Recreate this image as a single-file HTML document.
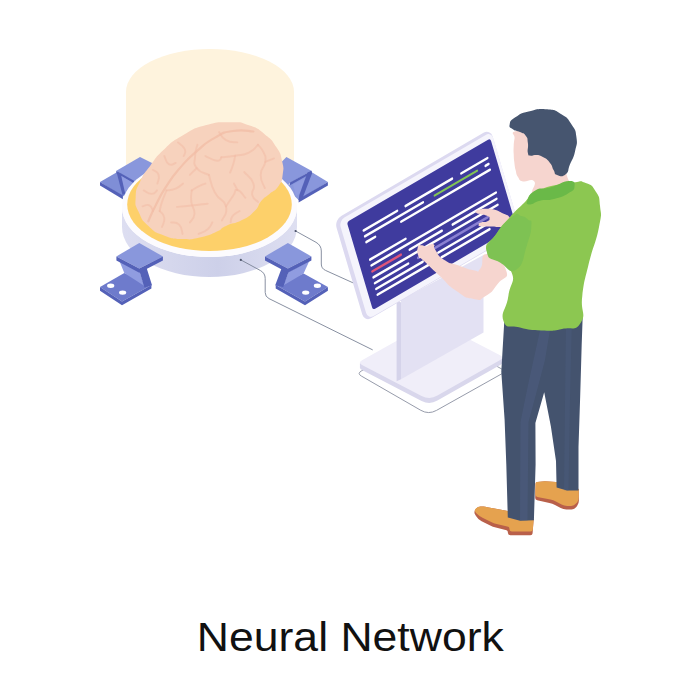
<!DOCTYPE html>
<html><head><meta charset="utf-8"><title>Neural Network</title>
<style>html,body{margin:0;padding:0;background:#fff;width:700px;height:700px;overflow:hidden}svg{display:block}</style>
</head><body>
<svg width="700" height="700" viewBox="0 0 700 700">
<rect width="700" height="700" fill="#ffffff"/>
<path d="M126,92 A84,43 0 0 1 294,92 L294,205 A84,47 0 0 1 126,205 Z" fill="#FEF3DD"/>
<polygon points="100.0,182.1 116.4,172.6 140.0,186.0 122.9,196.4" fill="#7F8ED6" />
<polygon points="100.0,182.1 122.9,195.6 122.9,199.2 100.0,185.6" fill="#5461B8" />
<polygon points="140.0,156.9 156.0,165.0 136.0,184.0 116.4,170.7" fill="#8997DC" />
<polygon points="116.4,170.7 134.0,180.8 134.0,183.4 116.4,173.3" fill="#5461B8" />
<polygon points="120.5,175.5 132.5,182.5 127.0,190.0 124.3,193.0" fill="#909CE0" />
<polygon points="116.4,171.5 120.8,174.0 125.2,193.5 122.6,195.3" fill="#5461B8" />
<polygon points="327.9,182.1 311.4,172.1 285.0,187.0 298.6,200.0" fill="#8997DC" />
<polygon points="327.9,182.1 298.6,199.0 298.6,202.6 327.9,185.6" fill="#5461B8" />
<polygon points="286.4,157.1 311.4,170.7 290.0,182.9 284.0,190.0 268.0,176.0" fill="#8997DC" />
<polygon points="311.4,170.7 290.0,182.6 290.0,185.2 311.4,173.3" fill="#5461B8" />
<polygon points="293.0,184.5 305.0,178.0 299.5,194.0 296.0,196.0" fill="#909CE0" />
<polygon points="307.5,172.5 311.6,170.7 312.0,173.5 303.0,197.0 298.6,200.0 299.3,195.0" fill="#5461B8" />
<defs><linearGradient id="pg" x1="0" x2="1" y1="0" y2="0"><stop offset="0" stop-color="#DDDEF1"/><stop offset="0.55" stop-color="#CDD0E9"/><stop offset="1" stop-color="#DEDFF1"/></linearGradient></defs>
<path d="M122,207 A87.5,50 0 0 0 297,207 L297,227 A87.5,50 0 0 1 122,227 Z" fill="url(#pg)"/>
<ellipse cx="209.5" cy="207" rx="87.5" ry="50" fill="#FCFBFE"/>
<ellipse cx="209.5" cy="204.5" rx="82.3" ry="46.5" fill="#FDD06A"/>
<path d="M230.6,122.3 C243.6,122.3 238.6,121.7 248.9,125.3 C259.1,128.9 256.6,127.9 264.9,134.4 C273.1,140.9 271.1,139.1 276.3,147.0 C281.4,154.9 280.1,152.5 282.0,160.7 C283.9,168.9 283.7,166.9 282.7,174.4 C281.7,182.0 282.5,180.0 278.6,185.9 C274.6,191.7 274.6,189.4 269.4,193.9 C264.3,198.3 265.9,195.6 261.4,200.7 C257.0,205.9 260.4,205.2 254.6,211.0 C248.7,216.8 250.6,215.7 242.0,220.1 C233.4,224.6 233.5,222.4 226.0,225.9 C218.5,229.3 224.4,228.1 216.9,231.6 C209.3,235.0 211.1,235.0 200.9,237.3 C190.6,239.5 193.8,239.7 182.6,239.1 C171.3,238.5 173.5,239.1 163.4,235.2 C153.2,231.4 156.1,233.2 148.7,226.3 C141.3,219.4 142.6,220.9 138.7,212.1 C134.8,203.4 135.2,206.5 135.7,197.3 C136.2,188.0 135.8,190.9 140.3,181.3 C144.7,171.7 143.4,174.9 150.6,165.3 C157.8,155.7 154.7,158.2 164.3,149.3 C173.9,140.4 170.2,142.8 182.6,135.6 C194.9,128.4 191.0,129.3 205.4,125.3 C219.8,121.3 217.5,122.3 230.6,122.3Z" fill="#F7D2BD" />
<path d="M148.3,221.3 C150.3,216.8 149.7,217.1 155.1,206.4 C160.6,195.8 159.0,197.5 166.6,185.9 C174.1,174.2 171.4,177.9 180.3,167.6 C189.2,157.3 186.0,160.5 196.3,151.6 C206.6,142.7 203.6,144.0 214.6,137.9 C225.5,131.7 221.2,132.9 232.9,131.0 C244.5,129.1 247.3,131.3 253.4,131.5" fill="none" stroke="#F2BCA6" stroke-width="2.2" stroke-linecap="round" stroke-linejoin="round" opacity="0.75"/>
<path d="M197.4,144.7 C196.7,148.1 195.3,149.1 195.1,156.1 C194.9,163.1 192.6,162.4 196.7,168.0 C200.9,173.7 205.2,172.8 208.9,174.9" fill="none" stroke="#F2BCA6" stroke-width="1.9" stroke-linecap="round" stroke-linejoin="round" opacity="0.55"/>
<path d="M196.7,168.0 C194.7,170.1 191.9,172.8 189.9,174.9" fill="none" stroke="#F2BCA6" stroke-width="1.9" stroke-linecap="round" stroke-linejoin="round" opacity="0.55"/>
<path d="M221.4,157.3 C225.5,156.8 226.9,157.1 235.1,155.7 C243.4,154.3 242.0,156.0 248.9,152.7 C255.7,149.4 255.3,147.1 258.0,144.7" fill="none" stroke="#F2BCA6" stroke-width="1.9" stroke-linecap="round" stroke-linejoin="round" opacity="0.55"/>
<path d="M235.1,155.7 C234.6,158.2 234.8,159.1 233.3,164.1 C231.8,169.2 231.1,170.1 230.1,172.6" fill="none" stroke="#F2BCA6" stroke-width="1.9" stroke-linecap="round" stroke-linejoin="round" opacity="0.55"/>
<path d="M258.0,144.7 C259.7,147.1 261.5,147.6 263.7,152.7 C265.9,157.9 266.2,155.2 265.3,161.9 C264.4,168.5 260.9,167.0 260.7,174.9 C260.6,182.8 263.6,184.2 264.9,188.1" fill="none" stroke="#F2BCA6" stroke-width="1.9" stroke-linecap="round" stroke-linejoin="round" opacity="0.55"/>
<path d="M265.3,161.9 C267.9,160.8 271.4,159.5 274.0,158.4" fill="none" stroke="#F2BCA6" stroke-width="1.9" stroke-linecap="round" stroke-linejoin="round" opacity="0.55"/>
<path d="M208.9,174.9 C210.7,180.2 209.9,183.3 215.0,192.7 C220.2,202.2 223.9,198.1 226.0,206.4 C228.1,214.8 223.1,216.3 221.9,220.6" fill="none" stroke="#F2BCA6" stroke-width="1.9" stroke-linecap="round" stroke-linejoin="round" opacity="0.55"/>
<path d="M226.0,206.4 C228.2,203.1 229.9,200.4 233.3,195.5 C236.7,190.5 233.8,189.3 237.4,190.0 C241.1,190.7 243.0,195.4 245.4,197.7" fill="none" stroke="#F2BCA6" stroke-width="1.9" stroke-linecap="round" stroke-linejoin="round" opacity="0.55"/>
<path d="M237.4,190.0 C236.4,188.1 235.0,185.5 234.0,183.6" fill="none" stroke="#F2BCA6" stroke-width="1.9" stroke-linecap="round" stroke-linejoin="round" opacity="0.55"/>
<path d="M191.7,190.4 C191.6,193.9 190.4,194.9 191.3,201.9 C192.1,208.9 194.9,207.6 194.5,213.7 C194.0,219.9 191.3,219.8 189.9,222.4" fill="none" stroke="#F2BCA6" stroke-width="1.9" stroke-linecap="round" stroke-linejoin="round" opacity="0.55"/>
<path d="M176.9,206.9 C181.2,206.5 182.0,206.5 191.3,205.5 C200.5,204.6 202.8,204.2 207.7,203.7" fill="none" stroke="#F2BCA6" stroke-width="1.9" stroke-linecap="round" stroke-linejoin="round" opacity="0.55"/>
<path d="M166.6,190.4 C169.3,189.9 170.8,190.7 175.7,188.6 C180.7,186.5 180.8,185.1 183.0,183.6" fill="none" stroke="#F2BCA6" stroke-width="1.9" stroke-linecap="round" stroke-linejoin="round" opacity="0.55"/>
<path d="M244.3,172.1 C247.0,175.6 251.0,176.7 253.4,183.6 C255.8,190.4 250.9,189.5 252.3,195.0 C253.7,200.5 256.3,199.8 258.0,201.9" fill="none" stroke="#F2BCA6" stroke-width="1.9" stroke-linecap="round" stroke-linejoin="round" opacity="0.55"/>
<path d="M205.4,183.6 C203.4,184.4 202.7,184.3 198.6,186.3 C194.5,188.4 193.8,189.2 191.7,190.4" fill="none" stroke="#F2BCA6" stroke-width="1.9" stroke-linecap="round" stroke-linejoin="round" opacity="0.55"/>
<path d="M212.3,222.4 C210.9,224.5 211.8,225.9 207.7,229.3 C203.6,232.7 201.3,232.5 198.6,233.9" fill="none" stroke="#F2BCA6" stroke-width="1.9" stroke-linecap="round" stroke-linejoin="round" opacity="0.55"/>
<path d="M239.7,211.0 C237.7,212.4 235.6,212.1 232.9,215.6 C230.1,219.0 231.3,220.4 230.6,222.4" fill="none" stroke="#F2BCA6" stroke-width="1.9" stroke-linecap="round" stroke-linejoin="round" opacity="0.55"/>
<path d="M219.1,132.1 C221.2,134.5 220.5,137.1 226.0,140.1 C231.5,143.2 234.0,141.7 237.4,142.4" fill="none" stroke="#F2BCA6" stroke-width="1.9" stroke-linecap="round" stroke-linejoin="round" opacity="0.55"/>
<path d="M205.4,156.1 C208.9,157.5 212.1,160.4 216.9,160.7 C221.7,161.1 220.1,158.3 221.4,157.3" fill="none" stroke="#F2BCA6" stroke-width="1.9" stroke-linecap="round" stroke-linejoin="round" opacity="0.55"/>
<path d="M152.9,169.9 C154.6,171.4 157.2,170.8 158.6,174.9 C159.9,179.0 157.8,181.0 157.4,183.6" fill="none" stroke="#F2BCA6" stroke-width="1.9" stroke-linecap="round" stroke-linejoin="round" opacity="0.55"/>
<path d="M164.3,156.1 C165.7,158.5 165.4,162.1 168.9,164.1 C172.3,166.2 173.7,163.3 175.7,163.0" fill="none" stroke="#F2BCA6" stroke-width="1.9" stroke-linecap="round" stroke-linejoin="round" opacity="0.55"/>
<path d="M143.7,190.4 C146.1,191.5 147.7,193.9 151.7,193.9 C155.7,193.9 155.4,191.5 157.0,190.4" fill="none" stroke="#F2BCA6" stroke-width="1.9" stroke-linecap="round" stroke-linejoin="round" opacity="0.55"/>
<path d="M142.6,206.4 C144.6,206.1 146.3,203.9 149.4,205.3 C152.5,206.7 151.8,209.3 152.9,211.0" fill="none" stroke="#F2BCA6" stroke-width="1.9" stroke-linecap="round" stroke-linejoin="round" opacity="0.55"/>
<path d="M159.7,211.0 C161.1,213.1 163.6,213.1 164.3,217.9 C165.0,222.7 162.7,224.3 162.0,227.0" fill="none" stroke="#F2BCA6" stroke-width="1.9" stroke-linecap="round" stroke-linejoin="round" opacity="0.55"/>
<path d="M166.6,190.4 C165.2,193.9 164.1,195.7 162.0,201.9 C159.9,208.0 160.4,208.3 159.7,211.0" fill="none" stroke="#F2BCA6" stroke-width="1.9" stroke-linecap="round" stroke-linejoin="round" opacity="0.55"/>
<path d="M178.0,142.4 C180.1,144.5 183.1,145.2 184.9,149.3 C186.6,153.4 184.1,154.1 183.7,156.1" fill="none" stroke="#F2BCA6" stroke-width="1.9" stroke-linecap="round" stroke-linejoin="round" opacity="0.55"/>
<path d="M171.1,222.4 C173.5,223.1 175.7,221.3 179.1,224.7 C182.6,228.1 181.5,231.1 182.6,233.9" fill="none" stroke="#F2BCA6" stroke-width="1.9" stroke-linecap="round" stroke-linejoin="round" opacity="0.55"/>
<polygon points="124.3,272.9 100.0,287.0 122.0,301.4 151.4,285.0" fill="#6E7BCC" />
<polygon points="100.0,287.0 122.0,301.4 151.4,285.0 151.4,288.6 122.0,305.2 100.0,290.8" fill="#5461B8" />
<polygon points="119.0,260.0 139.3,271.0 144.5,286.0 124.3,272.9" fill="#909CE0" />
<polygon points="139.3,271.0 146.5,267.5 152.0,285.3 144.5,287.5" fill="#5461B8" />
<polygon points="139.3,242.9 162.9,256.4 139.3,268.6 116.4,256.4" fill="#8997DC" />
<polygon points="116.4,256.4 139.3,268.6 162.9,256.4 162.9,260.4 139.3,272.8 116.4,260.6" fill="#5461B8" />
<ellipse cx="110.7" cy="285.7" rx="3.6" ry="2.2" fill="#fff"/><ellipse cx="122.6" cy="292.6" rx="3.6" ry="2.2" fill="#fff"/>
<polygon points="303.6,273.6 327.9,287.0 305.0,301.4 275.7,285.0" fill="#6E7BCC" />
<polygon points="327.9,287.0 305.0,301.4 275.7,285.0 275.7,288.6 305.0,305.2 327.9,290.8" fill="#5461B8" />
<polygon points="288.6,272.0 309.3,261.0 303.6,273.6 283.2,285.5" fill="#909CE0" />
<polygon points="281.5,268.5 288.6,272.0 283.2,287.0 275.2,285.3" fill="#5461B8" />
<polygon points="287.9,242.9 311.4,256.4 287.9,268.6 265.0,256.4" fill="#8997DC" />
<polygon points="265.0,256.4 287.9,268.6 311.4,256.4 311.4,260.4 287.9,272.8 265.0,260.6" fill="#5461B8" />
<ellipse cx="317.4" cy="285.7" rx="3.6" ry="2.2" fill="#fff"/><ellipse cx="305.7" cy="292.6" rx="3.6" ry="2.2" fill="#fff"/>
<path d="M295.6,231 L316,242.3 Q321.3,245.3 321.3,251 L321.3,264 Q321.3,268.5 325.5,270.4 L353.4,283" fill="none" stroke="#7A8396" stroke-width="0.9"/>
<path d="M240.8,259.9 L260.5,270.6 Q265.2,273.2 265.2,278.5 L265.2,292.5 Q265.2,296.8 269,298.6 L372.7,349.9" fill="none" stroke="#7A8396" stroke-width="0.9"/>
<circle cx="295.6" cy="231" r="1.1" fill="#4B5368"/><circle cx="240.8" cy="259.9" r="1.1" fill="#4B5368"/>
<path d="M361.3,376.0 Q357.0,373.5 361.3,371.0 L428.7,332.5 Q433.0,330.0 437.3,332.5 L501.7,369.0 Q506.0,371.5 501.6,373.9 L436.5,410.4 Q428.6,414.8 420.8,410.3 Z" fill="none" stroke="#8A90A0" stroke-width="0.9"/>
<path d="M362.0,369.9 Q357.6,367.6 362.0,365.2 L428.6,327.9 Q433.0,325.5 437.4,327.8 L500.1,360.2 Q504.5,362.5 500.2,365.0 L437.4,400.6 Q429.6,405.0 421.6,400.9 Z" fill="#D9D7EC"/>
<path d="M362.0,368.7 Q357.6,366.4 362.0,364.0 L428.6,326.7 Q433.0,324.3 437.4,326.6 L500.1,359.0 Q504.5,361.3 500.2,363.8 L437.4,399.4 Q429.6,403.8 421.6,399.7 Z" fill="#D9D7EC"/>
<path d="M362.0,367.4 Q357.6,365.1 362.0,362.7 L428.6,325.4 Q433.0,323.0 437.4,325.3 L500.1,357.7 Q504.5,360.0 500.2,362.5 L437.4,398.1 Q429.6,402.5 421.6,398.4 Z" fill="#D9D7EC"/>
<path d="M362.0,366.1 Q357.6,363.8 362.0,361.4 L428.6,324.1 Q433.0,321.7 437.4,324.0 L500.1,356.4 Q504.5,358.7 500.2,361.2 L437.4,396.8 Q429.6,401.2 421.6,397.1 Z" fill="#D9D7EC"/>
<path d="M362.0,364.9 Q357.6,362.6 362.0,360.2 L428.6,322.9 Q433.0,320.5 437.4,322.8 L500.1,355.2 Q504.5,357.5 500.2,360.0 L437.4,395.6 Q429.6,400.0 421.6,395.9 Z" fill="#F0EEF9"/>
<polygon points="396.6,300.0 401.0,302.5 401.0,379.3 396.6,381.2" fill="#D5D3EA" />
<polygon points="401.0,300.0 483.5,255.0 483.5,332.5 401.0,379.3" fill="#E3E1F3" />
<g transform="matrix(0.8634,-0.5045,0.284,0.9588,347.1,222.9)">
<rect x="-11.8" y="-9.2" width="180.8" height="106.5" rx="8" fill="#DCD9F0"/>
<rect x="-7.6" y="-6.2" width="176.7" height="102.8" rx="6.5" fill="#F5F4FC"/>
<rect x="0" y="-0.8" width="166.1" height="91.6" rx="2.6" fill="#3F3B9E"/>
<rect x="12.9" y="14.05" width="41.3" height="2.5" rx="1.25" fill="#FFFFFF" opacity="1"/>
<rect x="61.4" y="14.05" width="56.4" height="2.5" rx="1.25" fill="#FFFFFF" opacity="1"/>
<rect x="125.9" y="14.05" width="32.8" height="2.5" rx="1.25" fill="#FFFFFF" opacity="1"/>
<rect x="12.5" y="19.90" width="69.7" height="2.5" rx="1.25" fill="#FFFFFF" opacity="1"/>
<rect x="93.3" y="20.05" width="51.4" height="2.2" rx="1.1" fill="#82C455" opacity="1"/>
<rect x="152.2" y="19.90" width="5.9" height="2.5" rx="1.25" fill="#FFFFFF" opacity="1"/>
<rect x="12.2" y="25.75" width="12.7" height="2.5" rx="1.25" fill="#FFFFFF" opacity="1"/>
<rect x="52.5" y="25.75" width="105.3" height="2.5" rx="1.25" fill="#FFFFFF" opacity="1"/>
<rect x="10.8" y="43.30" width="43.5" height="2.5" rx="1.25" fill="#FFFFFF" opacity="1"/>
<rect x="10.4" y="49.15" width="146.6" height="2.5" rx="1.25" fill="#FFFFFF" opacity="1"/>
<rect x="9.5" y="55.00" width="35.5" height="2.5" rx="1.25" fill="#E0567A" opacity="1"/>
<rect x="52.7" y="55.00" width="39.8" height="2.5" rx="1.25" fill="#FFFFFF" opacity="1"/>
<rect x="102.5" y="55.00" width="53.3" height="2.5" rx="1.25" fill="#FFFFFF" opacity="1"/>
<rect x="8.9" y="60.85" width="146.2" height="2.5" rx="1.25" fill="#FFFFFF" opacity="1"/>
<rect x="8.6" y="66.70" width="41.1" height="2.5" rx="1.25" fill="#FFFFFF" opacity="1"/>
<rect x="58.6" y="66.65" width="83.2" height="2.6" rx="1.3" fill="#8A80D2" opacity="1"/>
<rect x="8.2" y="72.55" width="56.4" height="2.5" rx="1.25" fill="#FFFFFF" opacity="1"/>
<rect x="80" y="72.55" width="70.0" height="2.5" rx="1.25" fill="#FFFFFF" opacity="1"/>
<rect x="7.9" y="78.40" width="62.8" height="2.5" rx="1.25" fill="#FFFFFF" opacity="1"/>
<rect x="82" y="78.40" width="58.0" height="2.5" rx="1.25" fill="#FFFFFF" opacity="1"/>
</g>
<path d="M535.6,483.6 Q535.6,482.1 537.1,482.0 L545.0,481.2 Q545.0,481.2 545.0,481.2 L556.0,482.1 Q556.0,482.1 556.0,482.1 L578.7,489.0 Q578.7,489.0 578.7,489.0 L578.9,500.4 Q578.9,503.4 577.2,505.8 L576.3,507.0 Q574.6,509.4 571.6,509.4 L566.4,509.4 Q563.4,509.4 560.7,508.0 L555.0,505.0 Q552.3,503.6 549.4,503.0 L537.2,500.3 Q535.2,499.9 535.2,497.9 Z" fill="#B9604A"/>
<path d="M535.6,483.6 Q535.6,482.1 537.1,482.0 L545.0,481.2 Q545.0,481.2 545.0,481.2 L556.0,482.1 Q556.0,482.1 556.0,482.1 L578.7,489.0 Q578.7,489.0 578.7,489.0 L578.8,497.0 Q578.9,500.0 577.1,502.4 L576.0,503.6 Q574.2,506.0 571.2,506.0 L567.2,506.0 Q564.2,506.0 561.6,504.6 L555.9,501.6 Q553.3,500.2 550.4,499.6 L537.3,497.0 Q535.3,496.6 535.3,494.6 Z" fill="#E5A24F"/>
<path d="M475.1,514.6 Q473.6,512.0 475.4,509.6 L476.2,508.6 Q478.0,506.2 481.0,506.4 L483.4,506.6 Q485.4,506.8 487.4,507.2 L507.7,510.9 Q507.7,510.9 507.7,510.9 L533.7,519.0 Q533.7,519.0 533.7,519.0 L532.6,533.2 Q532.4,535.2 530.4,535.2 L510.4,535.2 Q508.4,535.2 508.0,533.2 L507.7,531.6 Q507.5,530.6 506.5,530.3 L495.8,527.6 Q492.9,526.8 490.2,525.5 L481.6,521.3 Q478.0,519.6 476.0,516.1 Z" fill="#B9604A"/>
<path d="M475.9,512.8 Q473.8,510.6 475.9,508.4 L475.9,508.4 Q478.0,506.2 481.0,506.4 L483.4,506.6 Q485.4,506.8 487.4,507.2 L507.7,510.9 Q507.7,510.9 507.7,510.9 L533.7,519.0 Q533.7,519.0 533.7,519.0 L532.8,529.6 Q532.6,531.6 530.6,531.6 L511.8,531.6 Q509.8,531.6 509.5,529.6 L509.3,528.0 Q509.2,527.0 508.2,526.8 L496.7,524.1 Q493.8,523.4 491.1,522.1 L483.0,518.1 Q479.4,516.4 476.6,513.5 Z" fill="#E5A24F"/>
<polygon points="504.6,316.0 501.3,371.7 504.6,419.7 506.3,464.3 507.8,517.5 520.0,520.8 533.9,520.3 535.6,464.3 535.4,423.1 544.2,392.3 550.9,426.6 556.0,460.9 556.6,487.6 567.0,490.6 578.5,490.4 578.5,447.1 580.2,395.7 581.7,344.3 582.7,316.0" fill="#44536E" />
<polygon points="541.0,326.0 551.0,324.0 545.0,360.0 535.0,398.0 528.5,422.0 527.5,520.6 520.0,520.3 520.5,422.0 528.0,385.0" fill="#51628A" opacity="0.38"/>
<polygon points="566.0,318.0 572.0,318.0 570.0,400.0 568.5,490.8 564.0,490.2 565.0,400.0" fill="#51628A" opacity="0.25"/>
<path d="M476.0,211.0 C477.3,209.7 477.0,209.9 481.0,209.2 C485.0,208.5 483.6,208.7 488.0,208.8 C492.4,208.9 489.4,208.2 494.1,209.6 C498.8,211.0 496.7,210.2 502.0,213.0 C507.3,215.8 507.3,213.7 510.0,218.0 C512.7,222.3 513.0,223.0 510.0,226.0 C507.0,229.0 507.7,226.8 501.0,227.0 C494.3,227.2 496.5,226.8 490.0,226.6 C483.5,226.4 485.3,226.9 481.5,226.3 C477.7,225.7 478.9,226.1 478.7,224.8 C478.5,223.5 478.2,223.6 481.0,222.5 C483.8,221.4 484.2,222.8 487.0,221.5 C489.8,220.2 489.5,220.4 489.5,218.5 C489.5,216.6 489.8,217.2 487.0,215.8 C484.2,214.4 484.3,215.1 481.0,214.2 C477.7,213.3 478.7,214.3 477.0,213.2 C475.3,212.1 474.7,212.3 476.0,211.0Z" fill="#F6D5CF" />
<path d="M417.9,247.0 C418.8,243.2 418.8,245.5 421.5,245.2 C424.2,244.9 423.2,246.5 426.0,246.2 C428.8,245.9 427.3,244.9 430.0,244.4 C432.7,243.9 432.3,242.8 434.1,244.7 C435.9,246.6 432.0,244.9 435.4,250.0 C438.8,255.1 436.8,255.0 444.4,260.1 C452.0,265.2 448.4,261.9 458.1,265.3 C467.8,268.7 466.2,269.1 473.6,270.2 C481.0,271.3 475.8,273.9 480.4,268.5 C485.0,263.1 478.8,253.6 487.3,254.1 C495.8,254.6 502.6,260.0 506.0,270.0 C509.4,280.0 504.4,275.4 497.6,284.1 C490.8,292.8 493.6,291.2 485.6,296.1 C477.6,301.0 483.3,300.6 473.6,298.9 C463.9,297.2 467.8,298.8 456.4,291.0 C445.0,283.2 450.1,285.6 439.3,275.6 C428.5,265.6 430.8,267.3 423.9,261.0 C417.0,254.7 420.7,261.4 418.7,256.7 C416.7,252.0 417.0,250.8 417.9,247.0Z" fill="#F6D5CF" />
<path d="M516.0,131.0 C509.2,133.1 515.2,134.0 514.6,138.0 C514.0,142.0 513.9,141.7 513.7,146.0 C513.5,150.3 513.5,149.7 513.7,154.0 C513.9,158.3 513.8,157.7 514.3,162.0 C514.8,166.3 514.6,166.0 515.6,170.0 C516.6,174.0 516.1,174.0 518.0,177.0 C519.9,180.0 518.6,180.2 522.9,181.4 C527.2,182.6 530.9,177.7 534.3,181.6 C537.7,185.5 526.2,193.8 535.7,196.0 C545.2,198.2 561.7,195.3 570.0,190.0 C578.3,184.7 569.7,186.7 567.0,176.0 C564.3,165.3 567.2,162.3 560.0,150.0 C552.8,137.7 551.7,135.1 540.0,130.0 C528.3,124.9 522.8,128.9 516.0,131.0Z" fill="#F6D5CF" />
<path d="M538.3,190.4 C551.7,184.7 557.9,184.9 571.3,182.8 C584.7,180.7 578.8,180.5 585.7,182.9 C592.6,185.3 591.6,184.9 595.7,191.4 C599.8,197.9 599.1,195.6 600.0,205.7 C600.9,215.8 602.2,210.4 599.0,227.0 C595.8,243.6 593.3,244.8 588.6,264.3 C583.9,283.8 584.5,279.2 582.3,295.7 C580.1,312.2 586.7,313.0 580.9,322.4 C575.1,331.8 573.2,326.7 562.0,329.0 C550.8,331.3 553.3,330.9 541.4,330.5 C529.5,330.1 530.7,330.2 520.0,327.5 C509.3,324.8 506.8,329.9 503.5,320.9 C500.2,311.9 506.4,310.1 508.4,295.7 C510.4,281.3 516.6,282.2 510.5,270.0 C504.4,257.8 490.8,263.0 487.0,252.5 C483.2,242.0 490.5,243.0 497.0,233.0 C503.5,223.0 502.4,225.6 510.0,217.1 C517.6,208.6 516.0,210.6 524.0,203.0 C532.0,195.4 524.9,196.1 538.3,190.4Z" fill="#8CC751" />
<path d="M513.0,216.3 C519.8,211.5 516.8,215.1 521.0,216.0 C525.2,216.9 525.1,216.9 528.0,219.5 C530.9,222.1 531.7,217.8 531.4,225.0 C531.1,232.2 531.2,232.4 527.0,245.0 C522.8,257.6 524.1,264.5 516.5,269.5 C508.9,274.5 508.3,267.3 500.0,262.5 C491.7,257.7 488.1,260.9 487.2,252.5 C486.3,244.1 489.7,243.3 497.0,233.0 C504.3,222.7 506.2,221.1 513.0,216.3Z" fill="#7EC253" />
<path d="M535.7,190.2 C542.1,186.7 540.6,190.2 550.0,187.6 C559.4,185.0 561.9,181.3 568.8,181.0 C575.7,180.7 574.7,183.0 574.5,186.5 C574.3,190.0 573.8,190.0 568.0,193.5 C562.2,197.0 561.9,196.9 554.0,199.0 C546.1,201.1 546.8,199.2 540.0,200.8 C533.2,202.4 533.5,204.7 530.0,204.5 C526.5,204.3 525.9,204.1 527.5,200.0 C529.1,195.9 529.3,193.7 535.7,190.2Z" fill="#6AB948" />
<path d="M509.7,124.3 C510.5,120.6 510.0,121.0 515.7,117.1 C521.4,113.2 519.2,113.7 528.6,111.4 C538.0,109.1 537.3,108.4 547.1,109.3 C556.9,110.2 554.1,109.8 561.4,114.3 C568.7,118.8 566.9,117.5 571.4,124.3 C575.9,131.1 575.3,129.0 576.4,137.1 C577.5,145.2 576.9,143.2 575.0,151.4 C573.1,159.6 572.8,157.4 570.0,164.3 C567.2,171.2 569.6,171.1 565.7,174.3 C561.8,177.5 560.7,176.3 557.1,175.0 C553.5,173.7 555.7,173.6 553.6,170.0 C551.5,166.4 553.2,166.8 550.0,162.9 C546.8,159.0 547.2,159.5 542.9,157.1 C538.6,154.7 539.4,155.4 535.7,155.0 C532.0,154.6 533.0,156.3 530.7,155.7 C528.4,155.1 528.7,156.7 527.9,152.9 C527.1,149.1 528.6,148.1 527.9,142.9 C527.2,137.7 528.1,138.9 525.7,135.7 C523.3,132.5 523.8,134.0 520.0,132.1 C516.2,130.2 516.0,131.6 512.9,129.3 C509.8,127.0 508.9,128.0 509.7,124.3Z" fill="#46556F" />
<text x="350.3" y="650.5" text-anchor="middle" font-family="'Liberation Sans', sans-serif" font-size="40.2" fill="#111" textLength="307" lengthAdjust="spacingAndGlyphs">Neural Network</text>
</svg>
</body></html>
